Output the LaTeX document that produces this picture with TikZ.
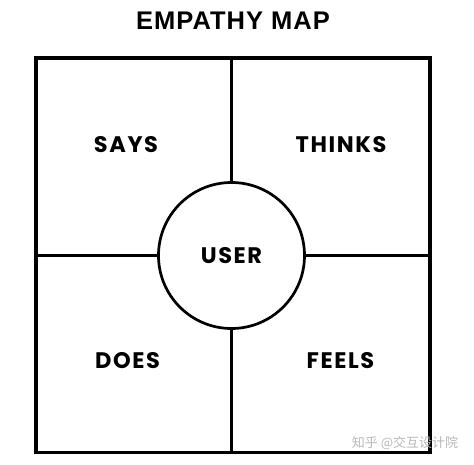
\documentclass[tikz,border=0pt]{standalone}
\usepackage{fontspec}
\setmainfont{Liberation Sans}
\newfontfamily\labelfont[LetterSpace=7]{Poppins}
\newfontfamily\titlefont[LetterSpace=4]{Liberation Sans}
\newfontfamily\cjk{Noto Sans CJK SC}
\begin{document}
\begin{tikzpicture}[x=1pt,y=-1pt,
  quad/.style={font=\labelfont\bfseries\fontsize{22.5}{22.5}\selectfont, inner sep=0pt, anchor=center},
  frame/.style={draw=black, line width=3.6pt, minimum width=394pt, minimum height=394pt, inner sep=0pt},
  hub/.style={draw=black, line width=2.7pt, circle, minimum size=146pt, inner sep=0pt, fill=white},
  divider/.style={draw=black, line width=2.8pt}]
\useasboundingbox (0,0) rectangle (474,465);
\node[frame] (box) at (233,255.3) {};
\node[hub] (user) at (231.5,255.5) {};
\draw[divider] (box.north -| user.north) -- (user.north);
\draw[divider] (box.south -| user.south) -- (user.south);
\draw[divider] (box.west |- user.west) -- (user.west);
\draw[divider] (box.east |- user.east) -- (user.east);
\node[quad] (userlabel) at (user.center) {USER};
\node[font=\titlefont\bfseries\fontsize{25.5}{25.5}\selectfont, inner sep=0pt] (title) at (233,21) {EMPATHY MAP};
\node[quad] (says) at (126,145) {SAYS};
\node[quad] (thinks) at (341,145) {THINKS};
\node[quad] (does) at (127.5,361) {DOES};
\node[quad] (feels) at (340.5,361) {FEELS};
\node[font=\cjk\fontsize{13}{13}\selectfont, text=black!28, inner sep=0pt] (mark) at (405,443) {知乎 @交互设计院};
\end{tikzpicture}
\end{document}
